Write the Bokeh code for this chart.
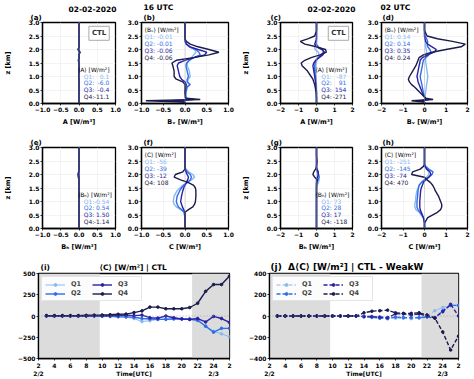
from bokeh.plotting import figure
from bokeh.layouts import row, column
from bokeh.models import (Label, BoxAnnotation, Span, FixedTicker, CustomJSTickFormatter,
                          Legend, LegendItem, Range1d, Title)
from bokeh.embed import file_html
from bokeh.resources import INLINE

# ---------------- data ----------------
Z = [0.0, 0.05, 0.1, 0.15, 0.2, 0.4, 0.6, 0.7, 0.8, 0.9, 1.0, 1.2, 1.4, 1.5, 1.6, 1.7,
     1.8, 1.9, 2.0, 2.1, 2.2, 2.3, 2.4, 2.5, 2.7, 3.0]

A16_Q1 = [0, 0, 0, 0, 0, 0, 0, 0, 0, 0, 0, 0, 0, 0, 0, 0, 0, 0, 0, 0, 0, 0, 0, 0, 0, 0]
A16_Q2 = [0, 0, 0, 0, 0, 0, 0, 0, 0, 0, 0, 0, 0, 0, 0, 0, 0, 0, 0.01, 0, 0, 0, 0, 0, 0, 0]
A16_Q3 = [0, 0, 0, 0, 0, 0, 0, 0, 0, 0, 0, 0, 0, 0, 0, 0, 0, 0.02, -0.02, 0, 0, 0, 0, 0, 0, 0]
A16_Q4 = [0, 0, 0, 0, 0, 0, 0, 0, 0, 0, -0.01, 0, 0, 0, -0.02, 0.01, 0, 0.03, -0.03, 0.01, 0, 0, 0, 0, 0, 0]

BV16_Q1 = [0, 0, 0, 0.05, 0.01, 0.02, 0.03, 0.1, 0.06, 0.08, 0.12, 0.1, 0.05, 0.05, 0.1, 0.15, 0.2, 0.25, 0.22, 0.1, 0.03, 0, 0, 0, 0, 0]
BV16_Q2 = [0, 0, -0.1, 0.1, 0.01, 0.02, 0.05, 0.12, 0.05, 0.05, 0.08, 0.05, 0.02, 0.04, 0.1, 0.2, 0.35, 0.32, 0.25, 0.1, 0.03, 0, 0, 0, 0, 0]
BV16_Q3 = [0, 0, -0.3, 0.2, 0.01, 0.0, 0.02, 0.03, 0.0, -0.08, -0.12, -0.15, -0.18, -0.15, 0.0, 0.2, 0.45, 0.5, 0.3, 0.12, 0.03, 0.01, 0, 0, 0, 0]
BV16_Q4 = [0, 0, -0.9, 0.35, 0.02, 0.0, 0.0, 0.0, -0.05, -0.2, -0.25, -0.25, -0.28, -0.3, -0.2, 0.2, 0.55, 0.78, 0.55, 0.3, 0.12, 0.03, 0, 0, 0, 0]

A02_Q1 = [0, 0, 0, 0, 0, 0, 0, 0, -0.02, -0.02, -0.03, -0.05, -0.05, -0.03, 0.02, 0.08, 0.15, 0.1, -0.08, -0.1, -0.03, 0, 0, 0, 0, 0]
A02_Q2 = [0, 0, 0, 0, 0, 0, -0.02, -0.03, -0.05, -0.05, -0.06, -0.1, -0.1, -0.08, -0.02, 0.1, 0.25, 0.38, 0.35, 0.1, 0.0, 0, 0, 0, 0, 0]
A02_Q3 = [0, 0, 0, 0, 0, 0, -0.02, -0.03, -0.05, -0.08, -0.1, -0.15, -0.2, -0.15, -0.05, 0.15, 0.35, 0.45, 0.3, 0.0, -0.1, -0.05, 0, 0, 0, 0]
A02_Q4 = [0, 0, 0, 0, 0, -0.02, -0.07, -0.1, -0.15, -0.2, -0.3, -0.5, -0.8, -0.85, -0.65, -0.3, 0.2, 0.55, 0.5, 0.0, -0.65, -0.9, -0.45, -0.1, 0, 0]

BV02_Q1 = [0, 0, 0, 0.05, 0.02, 0.05, 0.08, 0.1, 0.12, 0.14, 0.15, 0.12, 0.08, 0.06, 0.05, 0.05, 0.08, 0.1, 0.08, 0.05, 0.05, 0.05, 0.03, 0, 0, 0]
BV02_Q2 = [0, 0, -0.1, 0.1, 0.02, -0.05, -0.1, -0.12, -0.15, -0.18, -0.2, -0.15, -0.1, -0.08, -0.05, 0.05, 0.2, 0.3, 0.25, 0.15, 0.12, 0.15, 0.1, 0.02, 0, 0]
BV02_Q3 = [0, 0, -0.2, 0.2, 0.02, -0.1, -0.2, -0.25, -0.3, -0.32, -0.35, -0.3, -0.25, -0.22, -0.2, -0.1, 0.15, 0.45, 0.55, 0.35, 0.15, 0.05, 0.02, 0, 0, 0]
BV02_Q4 = [0, 0, -0.6, 0.4, 0.05, -0.2, -0.45, -0.6, -0.7, -0.75, -0.7, -0.55, -0.4, -0.35, -0.3, -0.25, -0.05, 0.35, 1.0, 1.7, 1.9, 1.3, 0.6, 0.12, 0, 0]

BH16_Q1 = [0, 0, 0, 0, 0, 0, 0, 0, 0, 0, 0, 0, 0, 0, 0, 0, 0, 0, 0, 0, 0, 0, 0, 0, 0, 0]
BH16_Q2 = [0, 0, 0, 0, 0, 0, 0, 0, 0, 0, 0, 0, 0, 0, 0, 0, 0, 0, 0.01, 0, 0, 0, 0, 0, 0, 0]
BH16_Q3 = [0, 0, 0, 0, 0, 0, 0, 0, 0, 0, 0, 0, 0, 0, 0, 0, 0, 0.01, -0.01, 0, 0, 0, 0, 0, 0, 0]
BH16_Q4 = [0, 0, 0, 0, 0, 0, 0, 0, 0, 0, 0, 0, 0, 0, 0, 0, 0, -0.02, -0.03, -0.01, 0, 0, 0, 0, 0, 0]

C16_Q1 = [0, 0, 0, 0, 0, 0, -0.02, -0.1, -0.2, -0.25, -0.27, -0.25, -0.18, -0.12, -0.05, 0.05, 0.15, 0.22, 0.18, 0.08, 0.02, 0, 0, 0, 0, 0]
C16_Q2 = [0, 0, 0, 0, 0, 0, -0.02, -0.08, -0.15, -0.18, -0.2, -0.18, -0.12, -0.08, -0.03, 0.05, 0.12, 0.15, 0.12, 0.05, 0.01, 0, 0, 0, 0, 0]
C16_Q3 = [0, 0, 0, 0, 0, 0, 0, -0.03, -0.06, -0.08, -0.1, -0.08, -0.05, -0.03, 0, 0.03, 0.06, 0.08, 0.05, 0.02, 0, 0, 0, 0, 0, 0]
C16_Q4 = [0, 0, 0, 0, 0, 0, 0.0, 0.08, 0.18, 0.22, 0.24, 0.25, 0.25, 0.24, 0.2, 0.08, -0.1, -0.25, -0.22, -0.05, 0.0, 0, 0, 0, 0, 0]

BH02_Q1 = [0, 0, 0, 0, 0, 0, 0, 0, 0, 0, 0, 0, 0, 0, 0.03, 0.1, 0.15, 0.12, 0.08, 0.03, 0, 0, 0, 0, 0, 0]
BH02_Q2 = [0, 0, 0, 0, 0, 0, 0, 0, 0, 0, 0, 0, 0, 0, 0, 0.03, 0.08, 0.15, 0.12, 0.05, 0, 0, 0, 0, 0, 0]
BH02_Q3 = [0, 0, 0, 0, 0, 0, 0, 0, 0, 0, 0, 0, 0, 0, 0, 0, 0, 0.05, 0.1, 0.1, 0.03, 0, 0.02, 0.03, 0, 0]
BH02_Q4 = [0, 0, 0, 0, 0, 0, 0, 0, 0, 0, 0, 0, 0, 0, 0, 0, 0.05, -0.1, -0.2, -0.15, -0.05, 0, 0, 0, 0, 0]

C02_Q1 = [0, 0, 0, 0, 0, -0.05, -0.25, -0.4, -0.45, -0.45, -0.42, -0.4, -0.35, -0.3, -0.25, -0.15, 0.0, 0.1, 0.2, 0.2, 0.1, 0.03, 0, 0, 0, 0]
C02_Q2 = [0, 0, 0, 0, 0, -0.05, -0.2, -0.3, -0.35, -0.35, -0.35, -0.32, -0.3, -0.28, -0.25, -0.15, 0.0, 0.2, 0.35, 0.4, 0.2, 0.05, 0, 0, 0, 0]
C02_Q3 = [0, 0, 0, 0, 0, -0.05, -0.15, -0.2, -0.22, -0.22, -0.22, -0.2, -0.18, -0.15, -0.1, -0.05, 0.05, 0.2, 0.3, 0.25, 0.1, 0.02, 0, 0, 0, 0]
C02_Q4 = [0, 0, 0, 0, 0.0, 0.15, 0.6, 0.75, 0.8, 0.8, 0.75, 0.65, 0.5, 0.45, 0.38, 0.28, 0.12, 0.0, -0.6, -0.55, -0.2, -0.05, 0, 0, 0, 0]

# legend values written in each profile panel
VAL_A16 = ["0.1", "-6.0", "-0.4", "-11.1"]
VAL_BV16 = ["-0.01", "-0.01", "-0.06", "-0.06"]
VAL_A02 = ["-87", "91", "154", "-271"]
VAL_BV02 = ["0.14", "0.14", "0.35", "0.24"]
VAL_BH16 = ["-0.54", "0.54", "1.50", "-1.14"]
VAL_C16 = ["-56", "-39", "-12", "108"]
VAL_BH02 = ["73", "28", "17", "-118"]
VAL_C02 = ["-251", "-145", "-74", "470"]

# time series (hour UTC; 26 = 02 UTC on 2/3)
T = [3, 4, 5, 6, 7, 8, 9, 10, 11, 12, 13, 14, 15, 16, 17, 18, 19, 20, 21, 22, 23, 24, 25, 26]
CTL_Q1 = [0, 0, 0, 0, 0, 0, 0, -3, -5, -8, -12, -30, -65, -55, -40, -35, -30, -30, -30, -55, -120, -180, -210, -245]
CTL_Q2 = [0, 0, 0, 0, 0, 0, 0, -3, -5, -8, -10, -15, -30, -35, -40, -40, -35, -35, -40, -50, -120, -190, -145, -145]
CTL_Q3 = [0, 0, 0, 0, 0, 0, 2, 3, 5, 5, 10, 5, 10, -20, -25, 0, -20, -35, -40, -30, -70, -5, -30, -75]
CTL_Q4 = [5, 5, 5, 5, 5, 8, 10, 12, 15, 20, 22, 40, 60, 105, 105, 85, 85, 85, 100, 150, 290, 370, 370, 470]
DIF_Q1 = [0, 0, 0, 0, 0, 0, 0, 0, 0, 0, 0, -10, -15, -20, -15, -20, -20, -25, -20, 0, 50, 80, 100, 100]
DIF_Q2 = [0, 0, 0, 0, 0, 0, 0, 0, 0, 0, 0, -5, -10, -20, -25, -10, -15, -15, -15, -10, -20, 50, 100, 100]
DIF_Q3 = [0, 0, 0, 0, 0, 0, 0, 0, 0, 0, 0, -5, -5, -10, -15, 20, 20, 10, 20, 0, -15, 40, 110, 0]
DIF_Q4 = [0, 0, 0, 0, 0, 0, 0, 0, 0, 0, 0, 30, 45, 50, 55, 30, 25, 25, 30, 10, -20, -150, -320, -190]
NIGHT = [(2, 9.7), (21.3, 26)]
TIME_TICKS = [2, 4, 6, 8, 10, 12, 14, 16, 18, 20, 22, 24, 26]
TIME_LABELS = {2: "2\n2/2", 14: "14\nTime[UTC]", 24: "24\n2/3", 26: "2"}

# ---------------- style ----------------
COLORS = ["#86b8f2", "#2f6de6", "#2b1fa6", "#1b1b4d"]
FONT = "DejaVu Sans"
TICK_FS = "6px"
LAB_FS = "6.5px"
LEG_FS = "6px"
TITLE_FS = "7.5px"
NB = "\u00a0"


def fmt(d):
    return CustomJSTickFormatter(
        code="return (tick < -1e-9 ? '\\u2212' : '') + Math.abs(tick).toFixed(%d);" % d)


def style_axis(ax, ticks, d, label=None):
    ax.ticker = FixedTicker(ticks=ticks)
    ax.formatter = fmt(d)
    ax.axis_line_color = "black"
    ax.axis_line_width = 1.3
    ax.major_tick_line_color = "black"
    ax.major_tick_line_width = 0.8
    ax.major_tick_out = 2
    ax.major_tick_in = 0
    ax.minor_tick_out = 0
    ax.minor_tick_in = 0
    ax.major_label_text_font = FONT
    ax.major_label_text_font_style = "bold"
    ax.major_label_text_font_size = TICK_FS
    ax.major_label_text_color = "black"
    ax.major_label_standoff = 1
    ax.axis_label = label
    ax.axis_label_text_font = FONT
    ax.axis_label_text_font_style = "bold"
    ax.axis_label_text_font_size = LAB_FS
    ax.axis_label_text_color = "black"
    ax.axis_label_standoff = 3


def title(p, text, size, offset=0, standoff=0):
    p.add_layout(Title(text=text, text_font=FONT, text_font_size=size, text_font_style="bold",
                       text_color="black", align="left", offset=offset, standoff=standoff),
                 "above")


def lab(p, x, y, text, size=LEG_FS, color="black", bold=False, align="left", **kw):
    p.add_layout(Label(x=x, y=y, text=text, text_font=FONT, text_font_size=size,
                       text_color=color, text_font_style="bold" if bold else "normal",
                       text_align=align, text_baseline="middle", **kw))


def profile(width, height, bl, br, bt, lim, series, xlabel, ylabel, header, vals, corner,
            valalign="left"):
    p = figure(width=width, height=height, x_range=Range1d(-lim, lim), y_range=Range1d(0, 3),
               output_backend="svg", toolbar_location=None, title=None,
               min_border_left=bl, min_border_right=br, min_border_top=bt, min_border_bottom=21)
    p.outline_line_color = "black"
    p.outline_line_width = 1.3
    p.grid.grid_line_color = "#ebebeb"
    p.grid.grid_line_width = 0.6
    xticks = [-1, -0.5, 0, 0.5, 1] if lim == 1 else [-2, -1, 0, 1, 2]
    yticks = [0, 0.5, 1, 1.5, 2, 2.5, 3]
    style_axis(p.xaxis[0], xticks, 1 if lim == 1 else 0, xlabel)
    style_axis(p.yaxis[0], yticks, 1, ylabel)
    p.yaxis[0].axis_label_standoff = 14
    p.xgrid.ticker = FixedTicker(ticks=xticks)
    p.ygrid.ticker = FixedTicker(ticks=yticks)
    p.add_layout(Span(location=0, dimension="height", line_color="#aaaaaa",
                      line_dash="1 1", line_width=0.8))
    for k, xs in enumerate(series):
        p.line(xs, Z, line_color=COLORS[k], line_width=1.4)
    s = 2.0 * lim  # data units per frame width
    if corner == "tl":
        x0 = -lim + 0.035 * s
        lab(p, x0, 2.75, header)
        for k in range(4):
            lab(p, x0, 2.48 - 0.255 * k, "Q%d: %s" % (k + 1, vals[k]), color=COLORS[k])
    else:
        lab(p, -lim + 0.485 * s, 1.27, header)
        for k in range(4):
            y = 1.01 - 0.247 * k
            if valalign == "right":
                lab(p, -lim + 0.565 * s, y, "Q%d:" % (k + 1), color=COLORS[k])
                lab(p, -lim + 0.915 * s, y, vals[k], color=COLORS[k], align="right")
            else:
                lab(p, -lim + 0.565 * s, y, "Q%d: %s" % (k + 1, vals[k]), color=COLORS[k])
    return p


def ctl_box(p, x):
    p.add_layout(Label(x=x, y=2.6, text="CTL", text_font=FONT, text_font_size="7px",
                       text_font_style="bold", text_color="#333333", text_align="center",
                       text_baseline="middle", border_line_color="#aaaaaa",
                       border_line_width=1, background_fill_color="white", padding=3))


# ---------------- rows 1 & 2 ----------------
R1H, R1T = 128, 22
R2H, R2T = 125, 19

pa = profile(124, R1H, 39, 9, R1T, 1, [A16_Q1, A16_Q2, A16_Q3, A16_Q4],
             "A [W/m³]", "z [km]", "⟨A⟩ [W/m²]", VAL_A16, "br", "right")
ctl_box(pa, 0.55)
title(pa, "(a)", "7px", -12, 1)
title(pa, "02-02-2020", TITLE_FS, 26, 0)

pb = profile(114, R1H, 16, 10, R1T, 1, [BV16_Q1, BV16_Q2, BV16_Q3, BV16_Q4],
             "Bᵥ [W/m³]", None, "⟨Bᵥ⟩ [W/m²]", VAL_BV16, "tl")
title(pb, "(b)", "7px", 2, 1)
title(pb, "16 UTC", TITLE_FS, 2, 0)

pc = profile(126, R1H, 37, 12, R1T, 2, [A02_Q1, A02_Q2, A02_Q3, A02_Q4],
             "A [W/m³]", "z [km]", "⟨A⟩ [W/m²]", VAL_A02, "br", "right")
ctl_box(pc, 1.22)
title(pc, "(c)", "7px", -10, 1)
title(pc, "02-02-2020", TITLE_FS, 27, 0)

pd_ = profile(110, R1H, 15, 7, R1T, 2, [BV02_Q1, BV02_Q2, BV02_Q3, BV02_Q4],
              "Bᵥ [W/m³]", None, "⟨Bᵥ⟩ [W/m²]", VAL_BV02, "tl")
title(pd_, "(d)", "7px", 1, 1)
title(pd_, "02 UTC", TITLE_FS, -1, 0)

pe = profile(124, R2H, 39, 9, R2T, 1, [BH16_Q1, BH16_Q2, BH16_Q3, BH16_Q4],
             "Bₕ [W/m³]", "z [km]", "⟨Bₕ⟩ [W/m²]", VAL_BH16, "br", "right")
title(pe, "(e)", "7px", -12, 2)
pf = profile(114, R2H, 16, 10, R2T, 1, [C16_Q1, C16_Q2, C16_Q3, C16_Q4],
             "C [W/m³]", None, "⟨C⟩ [W/m²]", VAL_C16, "tl")
title(pf, "(f)", "7px", 2, 2)
pg = profile(126, R2H, 37, 12, R2T, 2, [BH02_Q1, BH02_Q2, BH02_Q3, BH02_Q4],
             "Bₕ [W/m³]", "z [km]", "⟨Bₕ⟩ [W/m²]", VAL_BH02, "br")
title(pg, "(g)", "7px", -10, 2)
ph = profile(110, R2H, 15, 7, R2T, 2, [C02_Q1, C02_Q2, C02_Q3, C02_Q4],
             "C [W/m³]", None, "⟨C⟩ [W/m²]", VAL_C02, "tl")
title(ph, "(h)", "7px", 1, 2)


# ---------------- row 3 ----------------
def series_panel(width, bl, br, lim, yticks, data, dashed, head, size, off):
    p = figure(width=width, height=126, x_range=Range1d(2, 26), y_range=Range1d(-lim, lim),
               output_backend="svg", toolbar_location=None, title=None,
               min_border_left=bl, min_border_right=br, min_border_top=20, min_border_bottom=21)
    p.outline_line_color = "black"
    p.outline_line_width = 1.3
    p.grid.grid_line_color = None
    style_axis(p.xaxis[0], TIME_TICKS, 0)
    p.xaxis[0].major_label_overrides = TIME_LABELS
    style_axis(p.yaxis[0], yticks, 0)
    for a, b in NIGHT:
        p.add_layout(BoxAnnotation(left=a, right=b, fill_color="#dcdcdc", fill_alpha=1.0,
                                   line_alpha=0, level="underlay"))
    p.add_layout(Span(location=0, dimension="width", line_color="#999999",
                      line_dash="1 2", line_width=0.8))
    items = []
    for k, ys in enumerate(data):
        ln = p.line(T, ys, line_color=COLORS[k], line_width=1.4 if k else 1.0,
                    line_dash="4 2" if dashed else "solid")
        dt = p.scatter(T, ys, size=2.6, color=COLORS[k], marker="circle")
        items.append(LegendItem(label="Q%d" % (k + 1), renderers=[ln, dt]))
    leg = Legend(items=items, location="top_left", ncols=2, orientation="vertical",
                 label_text_font=FONT, label_text_font_size="6.5px",
                 label_text_font_style="bold", glyph_width=20, glyph_height=7,
                 label_height=7, label_standoff=6, spacing=1, padding=3, margin=3,
                 border_line_color="#cccccc", border_line_width=0.8,
                 background_fill_alpha=0.9)
    p.add_layout(leg)
    title(p, head, size, off, 3)
    return p


pi = series_panel(245, 38, 16, 500, [-500, -250, 0, 250, 500],
                  [CTL_Q1, CTL_Q2, CTL_Q3, CTL_Q4], False,
                  "(i)" + NB * 19 + "⟨C⟩ [W/m²] | CTL", TITLE_FS, 2)
pj = series_panel(229, 21, 16, 400, [-400, -200, 0, 200, 400],
                  [DIF_Q1, DIF_Q2, DIF_Q3, DIF_Q4], True,
                  "(j)" + NB * 2 + "Δ⟨C⟩ [W/m²] | CTL - WeakW", "9px", 1)

layout = column(row(pa, pb, pc, pd_), row(pe, pf, pg, ph), row(pi, pj))

open("out.html", "w").write(file_html(layout, INLINE))
